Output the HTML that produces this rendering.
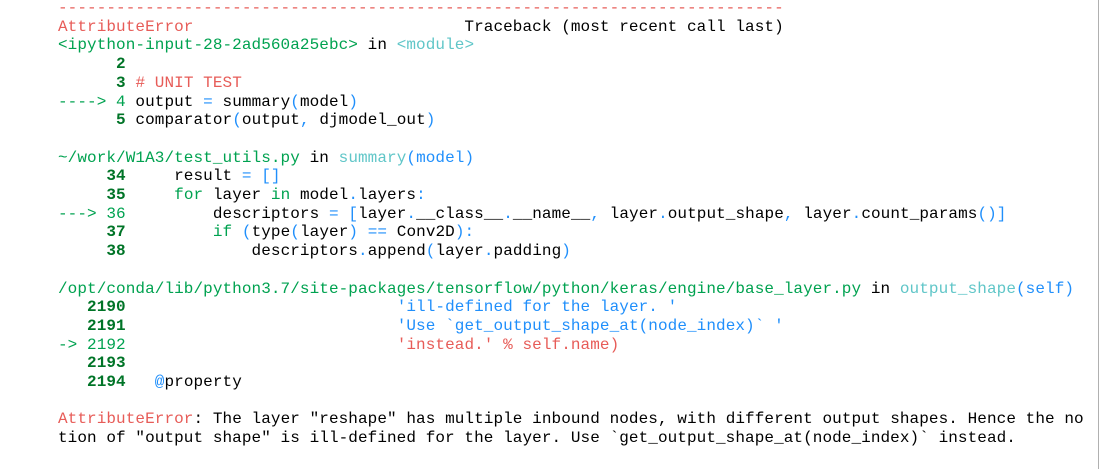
<!DOCTYPE html>
<html><head><meta charset="utf-8"><style>
html,body{margin:0;padding:0;background:#fff;width:1103px;height:469px;overflow:hidden;}
.b{position:absolute;left:1098px;top:0;width:1px;height:469px;background:#b0b0b0;}
pre{position:absolute;left:58px;top:-1px;margin:0;font-family:"Liberation Mono","DejaVu Sans Mono",monospace;font-size:16px;line-height:18.7px;letter-spacing:0.075px;color:#000;white-space:pre;}
.r{color:#e75c58}.g{color:#00a250}.G{color:#007427;font-weight:bold}.c{color:#60c6c8}.u{color:#208ffb}
</style></head><body><div class="b"></div>
<pre><span class="r">---------------------------------------------------------------------------</span>
<span class="r">AttributeError</span>                            Traceback (most recent call last)
<span class="g">&lt;ipython-input-28-2ad560a25ebc&gt;</span> in <span class="c">&lt;module&gt;</span>
<span class="G">      2</span> 
<span class="G">      3</span> <span class="r"># UNIT TEST</span>
<span class="g">----&gt; 4</span> output <span class="u">=</span> summary<span class="u">(</span>model<span class="u">)</span>
<span class="G">      5</span> comparator<span class="u">(</span>output<span class="u">,</span> djmodel_out<span class="u">)</span>

<span class="g">~/work/W1A3/test_utils.py</span> in <span class="c">summary</span><span class="u">(model)</span>
<span class="G">     34</span>     result <span class="u">=</span> <span class="u">[]</span>
<span class="G">     35</span>     <span class="g">for</span> layer <span class="g">in</span> model<span class="u">.</span>layers<span class="u">:</span>
<span class="g">---&gt; 36</span>         descriptors <span class="u">=</span> <span class="u">[</span>layer<span class="u">.</span>__class__<span class="u">.</span>__name__<span class="u">,</span> layer<span class="u">.</span>output_shape<span class="u">,</span> layer<span class="u">.</span>count_params<span class="u">()]</span>
<span class="G">     37</span>         <span class="g">if</span> <span class="u">(</span>type<span class="u">(</span>layer<span class="u">)</span> <span class="u">==</span> Conv2D<span class="u">):</span>
<span class="G">     38</span>             descriptors<span class="u">.</span>append<span class="u">(</span>layer<span class="u">.</span>padding<span class="u">)</span>

<span class="g">/opt/conda/lib/python3.7/site-packages/tensorflow/python/keras/engine/base_layer.py</span> in <span class="c">output_shape</span><span class="u">(self)</span>
<span class="G">   2190</span>                            <span class="u">'ill-defined for the layer. '</span>
<span class="G">   2191</span>                            <span class="u">'Use `get_output_shape_at(node_index)` '</span>
<span class="g">-&gt; 2192</span>                            <span class="r">'instead.' % self.name)</span>
<span class="G">   2193</span> 
<span class="G">   2194</span>   <span class="u">@</span>property

<span class="r">AttributeError</span>: The layer "reshape" has multiple inbound nodes, with different output shapes. Hence the no
tion of "output shape" is ill-defined for the layer. Use `get_output_shape_at(node_index)` instead.</pre>
</body></html>
